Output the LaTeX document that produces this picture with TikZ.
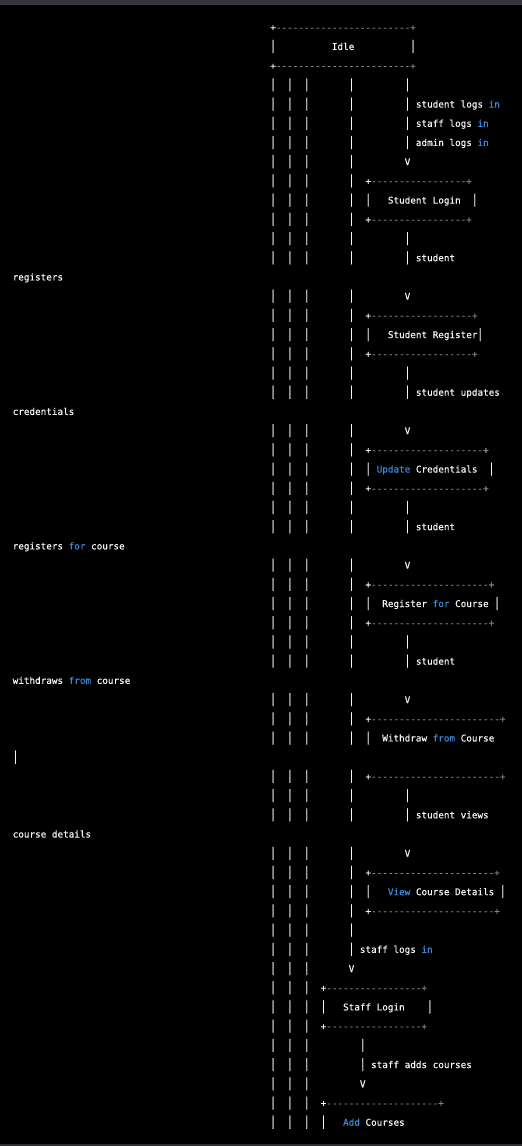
\documentclass[tikz,border=0pt]{standalone}
\usepackage{fontspec}
\usepackage{graphicx}
\setmonofont[FakeBold=0.3]{DejaVu Sans Mono}
\definecolor{bg}{HTML}{000000}
\definecolor{bar}{HTML}{36363F}
\definecolor{fg}{HTML}{F6F6F6}
\definecolor{kw}{HTML}{3A88D8}
\definecolor{cm}{HTML}{80858A}
\definecolor{edge}{HTML}{2E2E33}
\ExplSyntaxOn
\cs_new:Npn \myreps #1 { \prg_replicate:nn {#1} {-} }
\ExplSyntaxOff
\newcommand\pp{\scalebox{1}[1.4]{|}}
\tikzset{tx/.style={inner sep=0pt, outer sep=0pt, anchor=base west,
  font=\ttfamily\fontsize{9.3pt}{11pt}\selectfont}}
\newcommand\A[4][fg]{\node[tx,text=#1] (a#3-#2) at ({270.3+5.6*(#2)},{30.7+19.21*(#3-1)}) {#4};}
\newcommand\W[4][fg]{\node[tx,text=#1] (w#3-#2) at ({12.7+5.6*(#2)},{30.7+19.21*(#3-1)}) {#4};}
\newcommand\Bx[3]{\A{#2}{#1}{+}\node[tx,text=cm] (g#1) at ({270.3+5.6*(#2+1)},{30.7+19.21*(#1-1)}) {\myreps{#3-#2-1}+};}
\begin{document}
\begin{tikzpicture}[x=1pt,y=-1pt]
\useasboundingbox (0,0) rectangle (522,1146);
\fill[bg] (0,0) rectangle (522,1146);
\fill[bar] (0,0) rectangle (522,5);
\fill[edge] (0,1144) rectangle (522,1146);
% rails
\foreach \l in {4,...,13,15,16,...,20,22,23,...,27,29,30,...,34,36,37,38,40,41,42,44,45,...,58}{\A{0}{\l}{\pp}\A{3}{\l}{\pp}\A{6}{\l}{\pp}}
\foreach \l in {4,...,13,15,16,...,20,22,23,...,27,29,30,...,34,36,37,38,40,41,42,44,45,...,49}{\A{14}{\l}{\pp}}
% Idle
\Bx{1}{0}{25}
\A{0}{2}{\pp}\A{11}{2}{Idle}\A{25}{2}{\pp}
\Bx{3}{0}{25}
\A{24}{4}{\pp}
\A{24}{5}{\pp{} student logs}\A[kw]{39}{5}{in}
\A{24}{6}{\pp{} staff logs}\A[kw]{37}{6}{in}
\A{24}{7}{\pp{} admin logs}\A[kw]{37}{7}{in}
\A{24}{8}{V}
% Student Login
\Bx{9}{17}{35}
\A{17}{10}{\pp}\A{21}{10}{Student Login}\A{36}{10}{\pp}
\Bx{11}{17}{35}
\A{24}{12}{\pp}
\A{24}{13}{\pp{} student}
\W{0}{14}{registers}
\A{24}{15}{V}
% Student Register
\Bx{16}{17}{36}
\A{17}{17}{\pp}\A{21}{17}{Student Register\pp}
\Bx{18}{17}{36}
\A{24}{19}{\pp}
\A{24}{20}{\pp{} student updates}
\W{0}{21}{credentials}
\A{24}{22}{V}
% Update Credentials
\Bx{23}{17}{38}
\A{17}{24}{\pp}\A[kw]{19}{24}{Update}\A{26}{24}{Credentials}\A{39}{24}{\pp}
\Bx{25}{17}{38}
\A{24}{26}{\pp}
\A{24}{27}{\pp{} student}
\W{0}{28}{registers}\W[kw]{10}{28}{for}\W{14}{28}{course}
\A{24}{29}{V}
% Register for Course
\Bx{30}{17}{39}
\A{17}{31}{\pp}\A{20}{31}{Register}\A[kw]{29}{31}{for}\A{33}{31}{Course}\A{40}{31}{\pp}
\Bx{32}{17}{39}
\A{24}{33}{\pp}
\A{24}{34}{\pp{} student}
\W{0}{35}{withdraws}\W[kw]{10}{35}{from}\W{15}{35}{course}
\A{24}{36}{V}
% Withdraw from Course
\Bx{37}{17}{41}
\A{17}{38}{\pp}\A{20}{38}{Withdraw}\A[kw]{29}{38}{from}\A{34}{38}{Course}
\W{0}{39}{\pp}
\Bx{40}{17}{41}
\A{24}{41}{\pp}
\A{24}{42}{\pp{} student views}
\W{0}{43}{course details}
\A{24}{44}{V}
% View Course Details
\Bx{45}{17}{40}
\A{17}{46}{\pp}\A[kw]{21}{46}{View}\A{26}{46}{Course Details}\A{41}{46}{\pp}
\Bx{47}{17}{40}
\A{14}{49}{\pp{} staff logs}\A[kw]{27}{49}{in}
\A{14}{50}{V}
% Staff Login
\Bx{51}{9}{27}
\A{9}{52}{\pp}\A{13}{52}{Staff Login}\A{28}{52}{\pp}
\Bx{53}{9}{27}
\A{16}{54}{\pp}
\A{16}{55}{\pp{} staff adds courses}
\A{16}{56}{V}
% Add Courses
\Bx{57}{9}{30}
\A{9}{58}{\pp}\A[kw]{13}{58}{Add}\A{17}{58}{Courses}
\end{tikzpicture}
\end{document}
